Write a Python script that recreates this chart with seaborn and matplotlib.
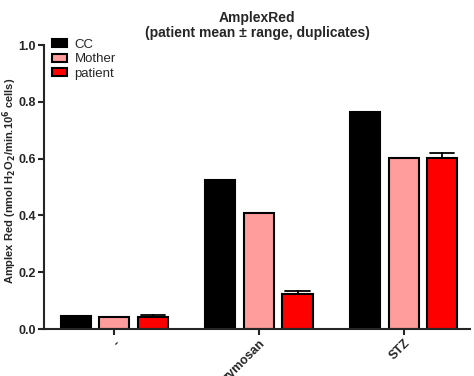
import pandas as pd
import seaborn as sns
import matplotlib.pyplot as plt
import matplotlib.transforms as mtransforms

# Data (patient in duplicates -> mean with range)
conditions = ["-", "zymosan", "STZ"]
groups = ["CC", "Mother", "patient"]
cc_values = [0.046, 0.525, 0.765]
mother_values = [0.041, 0.408, 0.603]
patient_rep1 = [0.038, 0.112, 0.581]
patient_rep2 = [0.048, 0.134, 0.621]

colors = ["#000000", "#FF9C9C", "#FF0000"]

# Build a long table for seaborn
rows = []
for i, cond in enumerate(conditions):
    rows.append({"condition": cond, "group": "CC", "value": cc_values[i]})
    rows.append({"condition": cond, "group": "Mother", "value": mother_values[i]})
    rows.append({"condition": cond, "group": "patient", "value": patient_rep1[i]})
    rows.append({"condition": cond, "group": "patient", "value": patient_rep2[i]})
df = pd.DataFrame(rows)

sns.set_style("ticks")
plt.rcParams["font.family"] = ["Liberation Sans", "DejaVu Sans"]
plt.rcParams["font.weight"] = "bold"
plt.rcParams["mathtext.default"] = "bf"

fig, ax = plt.subplots(figsize=(4.74, 3.76), dpi=100)
fig.subplots_adjust(left=0.093, right=0.992, bottom=0.125, top=0.88)

sns.barplot(data=df, x="condition", y="value", hue="group", order=conditions,
            hue_order=groups, palette=colors, saturation=1, errorbar=("pi", 100),
            capsize=0.5, err_kws={"color": "black", "linewidth": 1.3},
            edgecolor="black", linewidth=1.5, width=0.8, gap=0.22, ax=ax)

# error bars behind the bars so only the upper half shows
for line in ax.lines:
    line.set_zorder(0.5)

ax.set_ylim(0, 1.0)
ax.set_xlim(-0.485, 2.46)
ax.set_yticks([0.0, 0.2, 0.4, 0.6, 0.8, 1.0])
ax.set_yticklabels(["0.0", "0.2", "0.4", "0.6", "0.8", "1.0"], fontsize=9, fontweight="bold")
ax.set_xticks(range(len(conditions)))
ax.set_xticklabels(conditions, rotation=45, ha="right", rotation_mode="anchor",
                   fontsize=9, fontweight="bold")
shift = mtransforms.ScaledTranslation(4 / 72, -1 / 72, fig.dpi_scale_trans)
for lab in ax.get_xticklabels():
    lab.set_transform(lab.get_transform() + shift)
ax.set_xlabel("")
ax.set_ylabel("Amplex Red (nmol H$_\\mathbf{2}$O$_\\mathbf{2}$/min.10$^\\mathbf{6}$ cells)",
              fontsize=8, fontweight="bold")
ax.yaxis.set_label_coords(-0.06, 0.52)
ax.set_title("AmplexRed\n(patient mean \u00b1 range, duplicates)", fontsize=10,
             fontweight="bold", linespacing=1.1)

for side in ["top", "right"]:
    ax.spines[side].set_visible(False)
for side in ["left", "bottom"]:
    ax.spines[side].set_linewidth(1.5)
ax.tick_params(width=1.5, length=4, direction="out", pad=2)

leg = ax.legend(loc="upper left", bbox_to_anchor=(0.0, 1.05), frameon=False,
                prop={"size": 9.5, "weight": "normal"}, handlelength=1.15,
                handleheight=0.55, labelspacing=0.2, handletextpad=0.55,
                borderaxespad=0.2)

fig.savefig("out.png", dpi=100)
